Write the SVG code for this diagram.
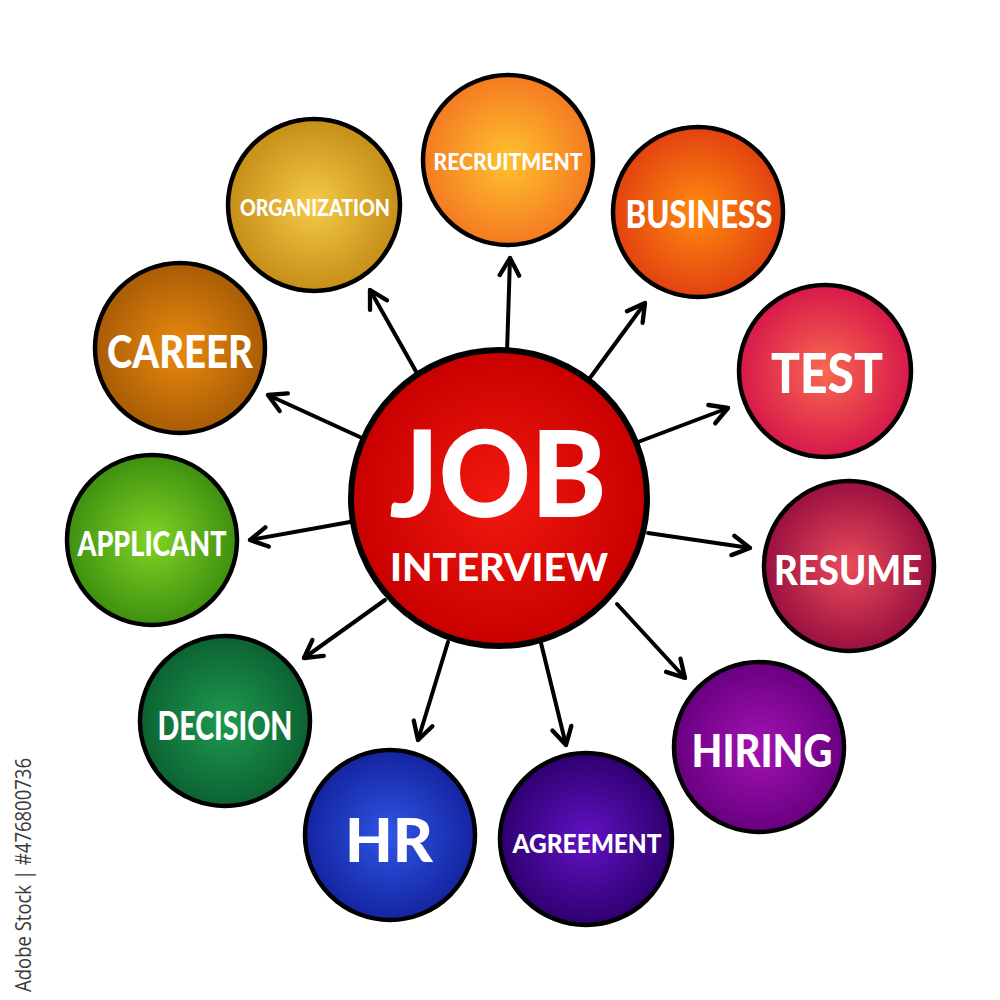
<svg xmlns="http://www.w3.org/2000/svg" width="1000" height="1000" viewBox="0 0 1000 1000">
<style>
.c{stroke:#000;stroke-width:4.5}
.t{fill:#fff;font-family:Lato,"Liberation Sans",sans-serif;font-weight:900;text-anchor:middle}
.a{fill:none;stroke:#000;stroke-width:4;stroke-linecap:round}
.wm{fill:#3a3a3a;font-family:"Open Sans","Liberation Sans",sans-serif}
</style>
<defs>
<marker id="arr" viewBox="0 0 24 24" refX="21" refY="12" markerWidth="26" markerHeight="26" markerUnits="userSpaceOnUse" orient="auto">
<path d="M5,3 L21,12 L5,21" fill="none" stroke="#000" stroke-width="4" stroke-linecap="round" stroke-linejoin="round"/>
</marker>
<radialGradient id="gCenter"><stop offset="0" stop-color="#f2190f"/><stop offset="1" stop-color="#c80000"/></radialGradient>
<radialGradient id="gRec"><stop offset="0" stop-color="#ffc22e"/><stop offset="1" stop-color="#f47a22"/></radialGradient>
<radialGradient id="gOrg"><stop offset="0" stop-color="#f6ca48"/><stop offset="1" stop-color="#c58e18"/></radialGradient>
<radialGradient id="gBus"><stop offset="0" stop-color="#ff8c10"/><stop offset="1" stop-color="#e24210"/></radialGradient>
<radialGradient id="gTest"><stop offset="0" stop-color="#f76a50"/><stop offset="1" stop-color="#d8184a"/></radialGradient>
<radialGradient id="gRes"><stop offset="0" stop-color="#ea4c5a"/><stop offset="1" stop-color="#9a1040"/></radialGradient>
<radialGradient id="gHir"><stop offset="0" stop-color="#a412b4"/><stop offset="1" stop-color="#680080"/></radialGradient>
<radialGradient id="gAgr"><stop offset="0" stop-color="#6212c4"/><stop offset="1" stop-color="#2e0070"/></radialGradient>
<radialGradient id="gHR"><stop offset="0" stop-color="#2f56e6"/><stop offset="1" stop-color="#1424a0"/></radialGradient>
<radialGradient id="gDec"><stop offset="0" stop-color="#1e9a50"/><stop offset="1" stop-color="#0c6232"/></radialGradient>
<radialGradient id="gApp"><stop offset="0" stop-color="#80d424"/><stop offset="1" stop-color="#3e9010"/></radialGradient>
<radialGradient id="gCar"><stop offset="0" stop-color="#ea8a0e"/><stop offset="1" stop-color="#a85c06"/></radialGradient>
</defs>
<rect width="1000" height="1000" fill="#fff"/>

<g id="connectors">
<line class="a" x1="507" y1="352" x2="510" y2="258" marker-end="url(#arr)"/>
<line class="a" x1="587" y1="382" x2="645" y2="303" marker-end="url(#arr)"/>
<line class="a" x1="638" y1="442" x2="728" y2="408" marker-end="url(#arr)"/>
<line class="a" x1="648" y1="533" x2="750" y2="548" marker-end="url(#arr)"/>
<line class="a" x1="617" y1="604" x2="685" y2="678" marker-end="url(#arr)"/>
<line class="a" x1="541" y1="643" x2="566" y2="745" marker-end="url(#arr)"/>
<line class="a" x1="448" y1="642" x2="418" y2="740" marker-end="url(#arr)"/>
<line class="a" x1="385" y1="600" x2="304" y2="658" marker-end="url(#arr)"/>
<line class="a" x1="350" y1="522" x2="250" y2="540" marker-end="url(#arr)"/>
<line class="a" x1="362" y1="438" x2="268" y2="395" marker-end="url(#arr)"/>
<line class="a" x1="418" y1="375" x2="370" y2="290" marker-end="url(#arr)"/>
</g>

<g id="center">
<circle cx="499" cy="498" r="148" fill="url(#gCenter)" stroke="#000" stroke-width="6"/>
<text class="t" x="498" y="517" font-size="120" textLength="217" lengthAdjust="spacingAndGlyphs">JOB</text>
<text class="t" x="499" y="581" font-size="38" textLength="218" lengthAdjust="spacingAndGlyphs">INTERVIEW</text>
</g>

<g id="recruitment">
<circle class="c" cx="508" cy="160" r="85" fill="url(#gRec)"/>
<text class="t" x="508" y="170" font-size="23" textLength="149" lengthAdjust="spacingAndGlyphs">RECRUITMENT</text>
</g>
<g id="business">
<circle class="c" cx="698" cy="212" r="85" fill="url(#gBus)"/>
<text class="t" x="699" y="228" font-size="38" textLength="147" lengthAdjust="spacingAndGlyphs">BUSINESS</text>
</g>
<g id="test">
<circle class="c" cx="825" cy="371" r="86" fill="url(#gTest)"/>
<text class="t" x="827" y="393" font-size="56" textLength="112" lengthAdjust="spacingAndGlyphs">TEST</text>
</g>
<g id="resume">
<circle class="c" cx="849" cy="566" r="85" fill="url(#gRes)"/>
<text class="t" x="848" y="585" font-size="41" textLength="148" lengthAdjust="spacingAndGlyphs">RESUME</text>
</g>
<g id="hiring">
<circle class="c" cx="759" cy="747" r="85" fill="url(#gHir)"/>
<text class="t" x="762" y="767" font-size="46" textLength="141" lengthAdjust="spacingAndGlyphs">HIRING</text>
</g>
<g id="agreement">
<circle class="c" cx="586" cy="839" r="86" fill="url(#gAgr)"/>
<text class="t" x="587" y="853" font-size="27" textLength="149" lengthAdjust="spacingAndGlyphs">AGREEMENT</text>
</g>
<g id="hr">
<circle class="c" cx="390" cy="835" r="85" fill="url(#gHR)"/>
<text class="t" x="389" y="862" font-size="60" textLength="88" lengthAdjust="spacingAndGlyphs">HR</text>
</g>
<g id="decision">
<circle class="c" cx="225" cy="721" r="85" fill="url(#gDec)"/>
<text class="t" x="225" y="740" font-size="40" textLength="135" lengthAdjust="spacingAndGlyphs">DECISION</text>
</g>
<g id="applicant">
<circle class="c" cx="152" cy="540" r="85" fill="url(#gApp)"/>
<text class="t" x="152" y="556" font-size="34" textLength="149" lengthAdjust="spacingAndGlyphs">APPLICANT</text>
</g>
<g id="career">
<circle class="c" cx="180" cy="348" r="85" fill="url(#gCar)"/>
<text class="t" x="180" y="368" font-size="46" textLength="146" lengthAdjust="spacingAndGlyphs">CAREER</text>
</g>
<g id="organization">
<circle class="c" cx="314" cy="205" r="86" fill="url(#gOrg)"/>
<text class="t" x="315" y="216" font-size="23" textLength="150" lengthAdjust="spacingAndGlyphs">ORGANIZATION</text>
</g>

<text class="wm" transform="translate(31,992) rotate(-90)" font-size="22" textLength="234" lengthAdjust="spacingAndGlyphs">Adobe Stock | #476800736</text>
</svg>
